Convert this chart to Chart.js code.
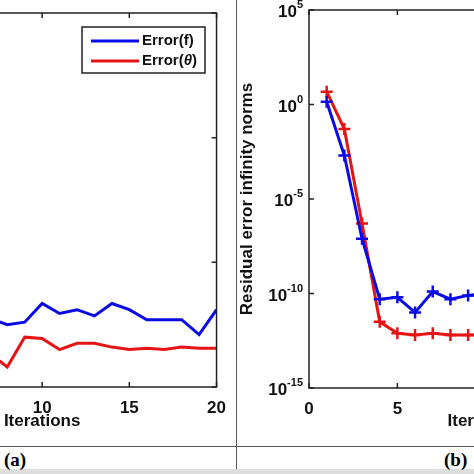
<!DOCTYPE html>
<html><head><meta charset="utf-8">
<script src="https://cdn.jsdelivr.net/npm/chart.js@4"></script>
<style>
html,body{margin:0;padding:0;width:474px;height:474px;overflow:hidden;background:#fff;position:relative;font-family:"Liberation Sans",Arial,sans-serif}
canvas{position:absolute}
#sepV{position:absolute;left:236px;top:0;width:1px;height:474px;background:#555}
#sepH{position:absolute;left:0;top:446px;width:474px;height:1px;background:#555}
#bot{position:absolute;left:0;top:469px;width:474px;height:5px;background:#ddd}
.lab{position:absolute;top:449px;font-family:"Liberation Serif",serif;font-weight:bold;font-size:19px}
</style></head><body>
<div id="sepV"></div><div id="sepH"></div><div id="bot"></div>
<div class="lab" style="left:4px">(a)</div>
<div class="lab" style="left:444px">(b)</div>
<canvas id="c1" style="left:-140px;top:0" width="369" height="446"></canvas>
<canvas id="c2" style="left:237px;top:0" width="438" height="446"></canvas>
<script>
// Panel (a): error curves (in units of the right-axis tick spacing)
const itersA = [7,8,9,10,11,12,13,14,15,16,17,18,19,20];
const errF_A = [0.55,0.50,0.52,0.67,0.59,0.62,0.57,0.67,0.62,0.54,0.54,0.54,0.42,0.62];
const errT_A = [0.27,0.16,0.40,0.39,0.30,0.35,0.35,0.32,0.30,0.31,0.30,0.32,0.31,0.31];
// Panel (b): residual error infinity norms, log10 values
const itersB = [1,2,3,4,5,6,7,8,9,10];
const logF_B = [0.15,-2.7,-7.1,-10.3,-10.2,-11.0,-9.9,-10.3,-10.1,-10.0];
const logT_B = [0.68,-1.3,-6.3,-11.5,-12.1,-12.2,-12.1,-12.2,-12.2,-12.2];
const xTicksA = [0,5,10,15,20];
const yTicksB = [1e-15,1e-10,1e-5,1e0,1e5];
const yTickExpB = ["-15","-10","-5","0","5"];
const BLUE = "#0a0ae6", RED = "#e61414";
const FONT = {family:"Liberation Sans", weight:"bold", size:17};

const boxPlugin = {
  id:'box',
  afterDraw(chart){
    const {ctx, chartArea:a, scales} = chart;
    ctx.save();
    ctx.strokeStyle = '#222'; ctx.lineWidth = 1.5;
    ctx.strokeRect(a.left, a.top, a.right-a.left, a.bottom-a.top);
    const L = 5;
    const xs = scales.x, ys = scales.y;
    xs.ticks.forEach(t => {
      const p = xs.getPixelForValue(t.value);
      ctx.beginPath(); ctx.moveTo(p,a.bottom); ctx.lineTo(p,a.bottom-L);
      ctx.moveTo(p,a.top); ctx.lineTo(p,a.top+L); ctx.stroke();
    });
    ys.ticks.forEach(t => {
      const p = ys.getPixelForValue(t.value);
      ctx.beginPath(); ctx.moveTo(a.left,p); ctx.lineTo(a.left+L,p);
      ctx.moveTo(a.right,p); ctx.lineTo(a.right-L,p); ctx.stroke();
    });
    if (chart.canvas.id === 'c2') {
      ctx.fillStyle = '#111'; ctx.textBaseline = 'alphabetic';
      yTicksB.forEach((v,i) => {
        const p = ys.getPixelForValue(v);
        ctx.font = 'bold 11px "Liberation Sans"';
        const ew = ctx.measureText(yTickExpB[i]).width;
        const xr = a.left - 6;
        ctx.fillText(yTickExpB[i], xr - ew, p - 2);
        ctx.font = 'bold 17px "Liberation Sans"';
        const bw = ctx.measureText('10').width;
        ctx.fillText('10', xr - ew - bw, p + 7);
      });
    }
    if (chart.canvas.id === 'c1') {
      const bx = 222, by = 27, bw = 123, bh = 46;
      ctx.fillStyle = '#fff'; ctx.fillRect(bx,by,bw,bh);
      ctx.strokeRect(bx,by,bw,bh);
      chart.data.datasets.forEach((d,i) => {
        const yy = by + 14 + i*20;
        ctx.strokeStyle = d.borderColor; ctx.lineWidth = 3;
        ctx.beginPath(); ctx.moveTo(bx+9,yy); ctx.lineTo(bx+57,yy); ctx.stroke();
        ctx.fillStyle = '#111'; ctx.textBaseline = 'middle';
        ctx.font = 'bold 15px "Liberation Sans"';
        const parts = d.label.split('θ');
        let x = bx + 60;
        ctx.fillText(parts[0], x, yy); x += ctx.measureText(parts[0]).width;
        if (parts.length > 1) {
          ctx.font = 'italic bold 15px "Liberation Sans"';
          ctx.fillText('θ', x, yy); x += ctx.measureText('θ').width;
          ctx.font = 'bold 15px "Liberation Sans"';
          ctx.fillText(parts[1], x, yy);
        }
      });
    }
    ctx.restore();
  }
};

const xScale = (h) => ({type:'linear', min:0, max:20, afterBuildTicks(s){s.ticks = xTicksA.map(v=>({value:v}));},
  grid:{display:false}, border:{display:false},
  ticks:{color:'#111', font:FONT, padding:3},
  title:{display:true, text:'Iterations', color:'#111', font:FONT, padding:{top:-4,bottom:0}},
  afterFit(s){s.height = h;}});

new Chart(document.getElementById('c1'), {
  type:'line',
  data:{datasets:[
    {label:'Error(f)', data:itersA.map((x,i)=>({x, y:errF_A[i]})), borderColor:BLUE, borderWidth:3, pointRadius:0, tension:0},
    {label:'Error(θ)', data:itersA.map((x,i)=>({x, y:errT_A[i]})), borderColor:RED, borderWidth:3, pointRadius:0, tension:0}
  ]},
  options:{
    responsive:false, animation:false, events:[],
    layout:{padding:{top:13, right:10, bottom:14}},
    plugins:{legend:{display:false}, tooltip:{enabled:false}},
    scales:{
      x:xScale(45),
      y:{type:'linear', min:0, max:3, ticks:{display:false, stepSize:1}, grid:{display:false}, border:{display:false},
         afterFit(s){s.width = 7;}}
    }
  },
  plugins:[boxPlugin]
});

new Chart(document.getElementById('c2'), {
  type:'line',
  data:{datasets:[
    {label:'Error(f)', data:itersB.map((x,i)=>({x, y:Math.pow(10,logF_B[i])})), borderColor:BLUE, borderWidth:3,
     pointStyle:'cross', pointRadius:6, pointBorderWidth:2.5, tension:0},
    {label:'Error(θ)', data:itersB.map((x,i)=>({x, y:Math.pow(10,logT_B[i])})), borderColor:RED, borderWidth:3,
     pointStyle:'cross', pointRadius:6, pointBorderWidth:2.5, tension:0}
  ]},
  options:{
    responsive:false, animation:false, events:[],
    layout:{padding:{top:10, right:10, bottom:14}},
    plugins:{legend:{display:false}, tooltip:{enabled:false}},
    scales:{
      x:xScale(44),
      y:{type:'logarithmic', min:1e-15, max:1e5,
         afterBuildTicks(s){s.ticks = yTicksB.map(v=>({value:v}));},
         ticks:{display:false},
         grid:{display:false}, border:{display:false},
         title:{display:true, text:'Residual error infinity norms', color:'#111', font:{family:"Liberation Sans", weight:"bold", size:17}, padding:{top:0,bottom:0}},
         afterFit(s){s.width = 72;}}
    }
  },
  plugins:[boxPlugin]
});
</script>
</body></html>
